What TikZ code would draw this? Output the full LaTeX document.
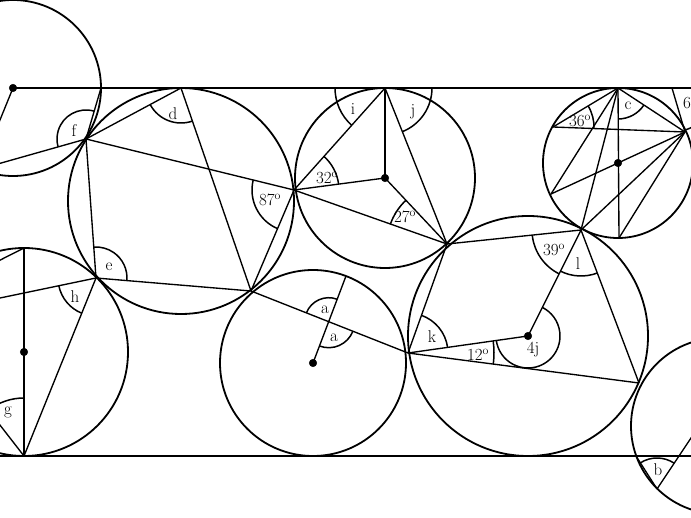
\documentclass[tikz,border=0pt]{standalone}
\usetikzlibrary{angles}
\begin{document}
\begin{tikzpicture}[x=1pt, y=-1pt,
    rim/.style={line width=1.8pt},
    chord/.style={line width=1.35pt},
    edge/.style={line width=1.6pt},
    arcmark/.style={draw, line width=1.5pt},
    lbl/.style={inner sep=0pt, font=\fontsize{17}{19}\selectfont}]
    \useasboundingbox (0,0) rectangle (691,518);
    \clip (0,0) rectangle (691,518);

    \coordinate (TR) at (691,88);
    \coordinate (BL) at (0,456);
    \coordinate (BR) at (691,456);
    \coordinate (C1) at (13,88);
    \coordinate (X1) at (-20,169);
    \coordinate (K1) at (101,88);
    \coordinate (F) at (86,139);
    \coordinate (C2) at (181,201);
    \coordinate (T2) at (181,88);
    \coordinate (P) at (294,190);
    \coordinate (E) at (96,278);
    \coordinate (Q) at (251,291);
    \coordinate (C3) at (385,178);
    \coordinate (T3) at (385,88);
    \coordinate (L3) at (300,88);
    \coordinate (R3) at (470,88);
    \coordinate (R) at (447,244);
    \coordinate (C4) at (313,363);
    \coordinate (E4) at (346,276);
    \coordinate (S) at (408,353);
    \coordinate (M) at (intersection of Q--S and C4--E4);
    \coordinate (C5) at (528,336);
    \coordinate (V) at (581,230);
    \coordinate (U) at (639,383);
    \coordinate (C6) at (618,163);
    \coordinate (T6) at (618,88);
    \coordinate (A6) at (553,127);
    \coordinate (B6) at (551,194);
    \coordinate (D6) at (619,238);
    \coordinate (W) at (685,132);
    \coordinate (Z) at (672,88);
    \coordinate (Z2) at (730,88);
    \coordinate (C7) at (719,426);
    \coordinate (L7) at (636,456);
    \coordinate (B7) at (657,489);
    \coordinate (N7) at (753,345);
    \coordinate (C8) at (24,352);
    \coordinate (T8) at (24,248);
    \coordinate (B8) at (24,456);
    \coordinate (G8) at (-77,326);
    \coordinate (H8) at (-59,290);
    \coordinate (L8) at (-72,313);

    \draw[edge] (C1) -- (TR);
    \draw[edge] (BL) -- (BR);

    \foreach \c/\r in {C1/88, C2/113, C3/90, C4/93, C5/120, C6/75, C7/88, C8/104}
      \draw[rim] (\c) circle[radius=\r];

    \foreach \a/\b in {C1/X1, F/X1, F/K1,
                       F/T2, T2/Q, F/P, F/E, E/Q, P/Q,
                       T3/C3, C3/P, C3/R, P/R, P/T3, T3/R,
                       Q/S, C4/E4,
                       R/V, R/S, S/C5, C5/V, S/U, V/U,
                       T6/A6, T6/B6, T6/V, T6/D6, T6/W, W/A6, W/B6, W/V, W/D6, Z/W,
                       L7/B7, B7/N7,
                       T8/B8, B8/E, B8/G8, T8/H8, E/L8}
      \draw[chord] (\a) -- (\b);

    \foreach \c in {C1, C3, C4, C5, C6, C8}
      \filldraw (\c) circle (3.8pt);

    \pic[arcmark, angle radius=29pt] {angle=K1--F--X1};
    \pic[arcmark, angle radius=35pt] {angle=F--T2--Q};
    \pic[arcmark, angle radius=42pt] {angle=F--P--Q};
    \pic[arcmark, angle radius=31pt] {angle=Q--E--F};
    \pic[arcmark, angle radius=38pt] {angle=L8--E--B8};
    \pic[arcmark, angle radius=58pt] {angle=T8--B8--G8};
    \pic[arcmark, angle radius=50pt] {angle=L3--T3--P};
    \pic[arcmark, angle radius=47pt] {angle=R--T3--R3};
    \pic[arcmark, angle radius=45pt] {angle=C3--P--T3};
    \pic[arcmark, angle radius=60pt] {angle=C3--R--P};
    \pic[arcmark, angle radius=24pt] {angle=E4--M--Q};
    \pic[arcmark, angle radius=26pt] {angle=C4--M--S};
    \pic[arcmark, angle radius=40pt] {angle=C5--S--R};
    \pic[arcmark, angle radius=86pt] {angle=U--S--C5};
    \pic[arcmark, angle radius=32pt] {angle=S--C5--V};
    \pic[arcmark, angle radius=49pt] {angle=R--V--C5};
    \pic[arcmark, angle radius=46pt] {angle=C5--V--U};
    \pic[arcmark, angle radius=41pt] {angle=W--A6--T6};
    \pic[arcmark, angle radius=31pt] {angle=D6--T6--W};
    \pic[arcmark, angle radius=44pt] {angle=W--Z--Z2};
    \pic[arcmark, angle radius=31pt] {angle=N7--B7--L7};

    \node[lbl] (lf) at (74,131) {f};
    \node[lbl] (ld) at (173,114) {d};
    \node[lbl] (l87) at (270,200) {87\textsuperscript{o}};
    \node[lbl] (le) at (109,267) {e};
    \node[lbl] (lh) at (75,297) {h};
    \node[lbl] (lg) at (8,412) {g};
    \node[lbl] (li) at (353,109) {i};
    \node[lbl] (lj) at (413,112) {j};
    \node[lbl] (l32) at (327,178) {32\textsuperscript{o}};
    \node[lbl] (l27) at (405,217) {27\textsuperscript{o}};
    \node[lbl] (la1) at (325,310) {a};
    \node[lbl] (la2) at (334,338) {a};
    \node[lbl] (lk) at (432,337) {k};
    \node[lbl] (l12) at (478,355) {12\textsuperscript{o}};
    \node[lbl] (l4j) at (533,350) {4j};
    \node[lbl] (l39) at (554,250) {39\textsuperscript{o}};
    \node[lbl] (ll) at (578,264) {l};
    \node[lbl] (l36) at (580,121) {36\textsuperscript{o}};
    \node[lbl] (lc) at (628,106) {c};
    \node[lbl] (l6) at (687,103) {6};
    \node[lbl] (lb) at (658,470) {b};
\end{tikzpicture}
\end{document}
